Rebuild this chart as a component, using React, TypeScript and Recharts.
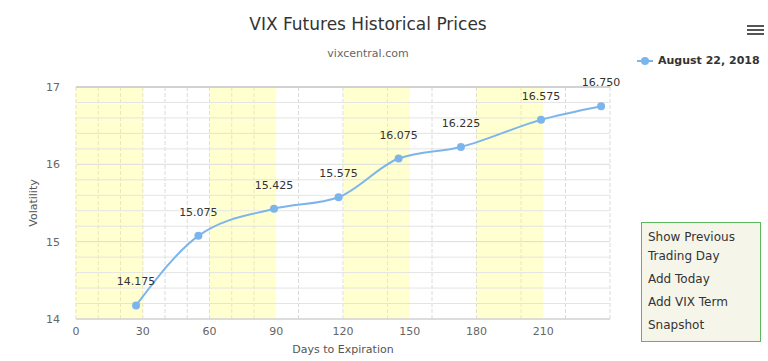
import React from "react";
import {
  LineChart,
  Line,
  XAxis,
  YAxis,
  CartesianGrid,
  ReferenceArea,
  ReferenceLine,
  LabelList,
} from "recharts";

// term structure for one trading day
const days = [27, 55, 89, 118, 145, 173, 209, 236];
const prices = [14.175, 15.075, 15.425, 15.575, 16.075, 16.225, 16.575, 16.75];
const seriesName = "August 22, 2018";

const xTicks = [0, 30, 60, 90, 120, 150, 180, 210];
const yTicks = [14, 15, 16, 17];
const bands = [
  [0, 30],
  [60, 90],
  [120, 150],
  [180, 210],
];
const menuItems = ["Show Previous Trading Day", "Add Today", "Add VIX Term", "Snapshot"];

const data = days.map((d, i) => ({ days: d, price: prices[i] }));

const font = "'Lucida Grande', 'Lucida Sans Unicode', 'DejaVu Sans', sans-serif";
const lineColor = "#7cb5ec";

// minor gridlines: every 10 days, every 0.2 vol points
const vGrid = Array.from({ length: 25 }, (_, i) => i * 10);
const hGrid = Array.from({ length: 16 }, (_, i) => Math.round((14 + i * 0.2) * 10) / 10);

const PointLabel = (props: any) => {
  const { x, y, value } = props;
  return (
    <text
      x={x}
      y={y - 20}
      textAnchor="middle"
      fontSize={11}
      fill="#333"
      fontFamily={font}
    >
      {Number(value).toFixed(3)}
    </text>
  );
};

export default function App() {
  return (
    <div
      style={{
        position: "absolute",
        left: 0,
        top: 0,
        width: 768,
        height: 361,
        background: "#fff",
        fontFamily: font,
      }}
    >
      <div
        style={{
          position: "absolute",
          top: 14,
          width: 736,
          textAlign: "center",
          fontSize: 17,
          color: "#333",
        }}
      >
        VIX Futures Historical Prices
      </div>
      <div
        style={{
          position: "absolute",
          top: 47,
          width: 736,
          textAlign: "center",
          fontSize: 11,
          color: "#666",
        }}
      >
        vixcentral.com
      </div>
      {/* export menu icon */}
      <div style={{ position: "absolute", left: 747, top: 25 }}>
        {[0, 1, 2].map((i) => (
          <div
            key={i}
            style={{ width: 17, height: 2, background: "#555", marginBottom: 2 }}
          />
        ))}
      </div>

      {/* legend */}
      <div
        style={{
          position: "absolute",
          left: 637,
          top: 54,
          display: "flex",
          alignItems: "center",
        }}
      >
        <svg width={16} height={10}>
          <line x1={0} y1={5} x2={16} y2={5} stroke={lineColor} strokeWidth={2} />
          <circle cx={8} cy={5} r={4} fill={lineColor} />
        </svg>
        <span style={{ marginLeft: 5, fontSize: 11, fontWeight: "bold", color: "#333" }}>
          {seriesName}
        </span>
      </div>

      <LineChart
        width={768}
        height={361}
        data={data}
        margin={{ top: 87, right: 158, left: 20, bottom: 0 }}
        style={{ position: "absolute", left: 0, top: 0 }}
      >
        {bands.map(([a, b]) => (
          <ReferenceArea
            key={a}
            x1={a}
            x2={b}
            y1={14}
            y2={17}
            fill="#ffff80"
            fillOpacity={0.38}
            stroke="none"
          />
        ))}
        {hGrid.map((v) => (
          <ReferenceLine
            key={"h" + v}
            y={v}
            stroke={v === 17 ? "#d2d2d2" : Number.isInteger(v) ? "#dcdcdc" : "#e4e4e4"}
            strokeWidth={v === 17 ? 2 : 1}
          />
        ))}
        <CartesianGrid
          verticalValues={vGrid}
          horizontal={false}
          stroke="#dadada"
          strokeDasharray="4 2"
        />
        <XAxis
          type="number"
          dataKey="days"
          domain={[0, 240]}
          ticks={xTicks}
          tickLine={false}
          axisLine={{ stroke: "#ccc" }}
          tickSize={0}
          tickMargin={8}
          tick={{ fontSize: 11, fill: "#666", fontFamily: font }}
          height={42}
          label={{
            value: "Days to Expiration",
            position: "insideBottom",
            offset: 8,
            fontSize: 11,
            fill: "#555",
            fontFamily: font,
          }}
        />
        <YAxis
          type="number"
          domain={[14, 17]}
          ticks={yTicks}
          tickLine={false}
          axisLine={false}
          tickSize={0}
          tickMargin={16}
          width={56}
          tick={{ fontSize: 11, fill: "#666", fontFamily: font }}
          label={{
            value: "Volatility",
            angle: -90,
            position: "insideLeft",
            offset: 13,
            style: { textAnchor: "middle" },
            fontSize: 11,
            fill: "#555",
            fontFamily: font,
          }}
        />
        <Line
          type="monotone"
          dataKey="price"
          name={seriesName}
          stroke={lineColor}
          strokeWidth={2}
          dot={{ r: 4, fill: lineColor, stroke: lineColor, strokeWidth: 0 }}
          isAnimationActive={false}
        >
          <LabelList dataKey="price" content={<PointLabel />} />
        </Line>
      </LineChart>

      <div
        style={{
          position: "absolute",
          left: 641,
          top: 222,
          width: 106,
          height: 108,
          padding: "5px 6px",
          border: "1px solid #5cb85c",
          background: "#f6f5ea",
          color: "#333",
          fontSize: 12,
          lineHeight: "19px",
        }}
      >
        {menuItems.map((m) => (
          <div key={m} style={{ marginBottom: 4 }}>
            {m}
          </div>
        ))}
      </div>
    </div>
  );
}
